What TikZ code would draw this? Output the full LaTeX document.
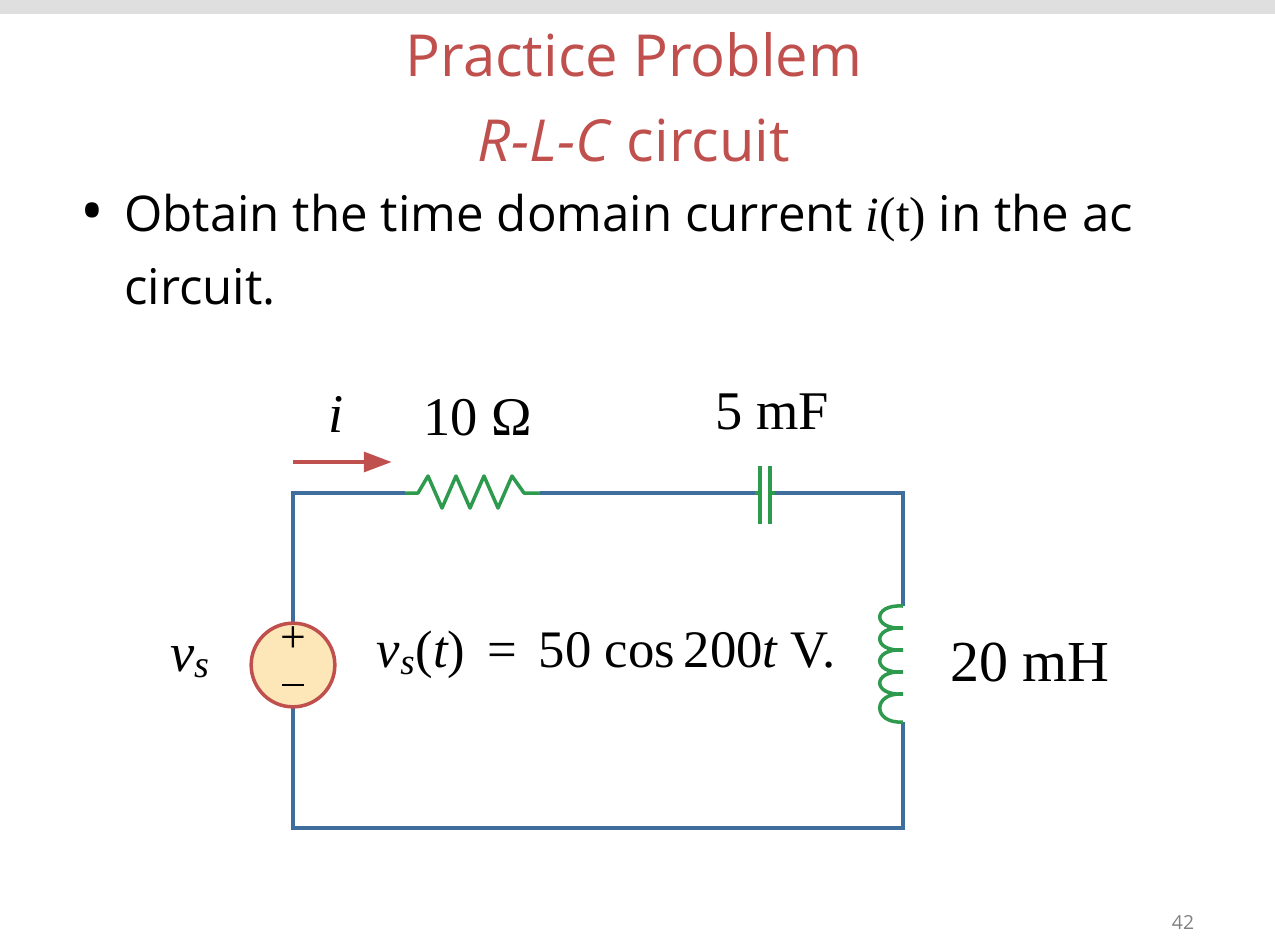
\documentclass[tikz,border=0pt]{standalone}
\usepackage{fontspec}
\setmainfont{Open Sans}
\newfontfamily\tms{Liberation Serif}
\usetikzlibrary{arrows.meta}
\definecolor{ttl}{HTML}{C0504D}
\definecolor{wire}{HTML}{3F6E9C}
\definecolor{grn}{HTML}{2E9A4E}
\begin{document}
\begin{tikzpicture}[x=0.02cm,y=-0.02cm,
  wirest/.style={wire,line width=2pt},
  comp/.style={grn,line width=2pt},
  lbl/.style={font=\tms\fontsize{31}{34}\selectfont,inner sep=0pt}]
\useasboundingbox (0,0) rectangle (1275,938);
\fill[gray!25] (0,0) rectangle (1275,14);
\node[ttl,font=\fontsize{33}{38}\selectfont] (t1) at (634,55) {Practice Problem};
\node[ttl,font=\fontsize{33}{38}\selectfont] (t2) at (634,140) {\textit{R-L-C} circuit};
\node[anchor=west,font=\fontsize{36}{32}\selectfont,inner sep=0pt] (b) at (80,218) {•};
\node[anchor=west,font=\fontsize{28}{32}\selectfont,inner sep=0pt] (l1) at (124,218) {Obtain the time domain current {\tms\itshape i}{\tms(t)} in the ac};
\node[anchor=west,font=\fontsize{28}{32}\selectfont,inner sep=0pt] (l2) at (124,287) {circuit.};
% wires
\coordinate (tl) at (293,493); \coordinate (tr) at (903,493);
\coordinate (bl) at (293,828); \coordinate (br) at (903,828);
\draw[wirest] (293,623) -- (tl) -- (405,493);
\draw[wirest] (540,493) -- (757,493);
\draw[wirest] (773,493) -- (tr) -- (903,606);
\draw[wirest] (903,722) -- (br) -- (bl) -- (293,707);
% resistor
\draw[comp,line join=round] (405,493) -- (418,493) -- (428,476) -- (442,508) -- (456,476) -- (470,508) -- (484,476) -- (498,508) -- (512,476) -- (524,493) -- (540,493);
% capacitor
\draw[comp] (760,466) -- (760,524) (770,466) -- (770,524);
\draw[comp] (755,493) -- (760,493) (770,493) -- (775,493);
% inductor
\draw[comp] (903,606) .. controls (872,604) and (872,630) .. (903,628)
  .. controls (872,626) and (872,652) .. (903,650)
  .. controls (872,648) and (872,674) .. (903,672)
  .. controls (872,670) and (872,696) .. (903,694)
  .. controls (872,692) and (872,724) .. (903,722);
% source
\node[circle,draw=ttl,fill=yellow!30!orange!25,line width=2pt,minimum size=84pt*0.567,inner sep=0pt] (src) at (293,665) {};
\node[font=\tms\fontsize{26}{24}\selectfont] (plus) at (293,640) {+};
\draw[line width=1.6pt] (282,685) -- (304,685);
% arrow
\draw[ttl,line width=2.8pt,-{Triangle[length=16pt,width=11pt]}] (293,462) coordinate (a0) -- (392,462) coordinate (a1);
% labels
\node[lbl] (li) at (336,414) {\itshape i};
\node[lbl] (lr) at (478,418) {10 Ω};
\node[lbl] (lc) at (772,412) {5 mF};
\node[lbl] (lv) at (190,662) {\itshape v\textsubscript{\itshape s}};
\node[lbl,font=\tms\fontsize{30}{34}\selectfont] (le) at (606,655) {\itshape v\textsubscript{\itshape s}\upshape(\itshape t\upshape) \,=\, 50 cos\,200\itshape t \upshape V.};
\node[lbl,font=\tms\fontsize{33}{34}\selectfont] (ll) at (1030,662) {20 mH};
\node[font=\fontsize{11}{12}\selectfont,gray] (pg) at (1183,922) {42};
\end{tikzpicture}
\end{document}
